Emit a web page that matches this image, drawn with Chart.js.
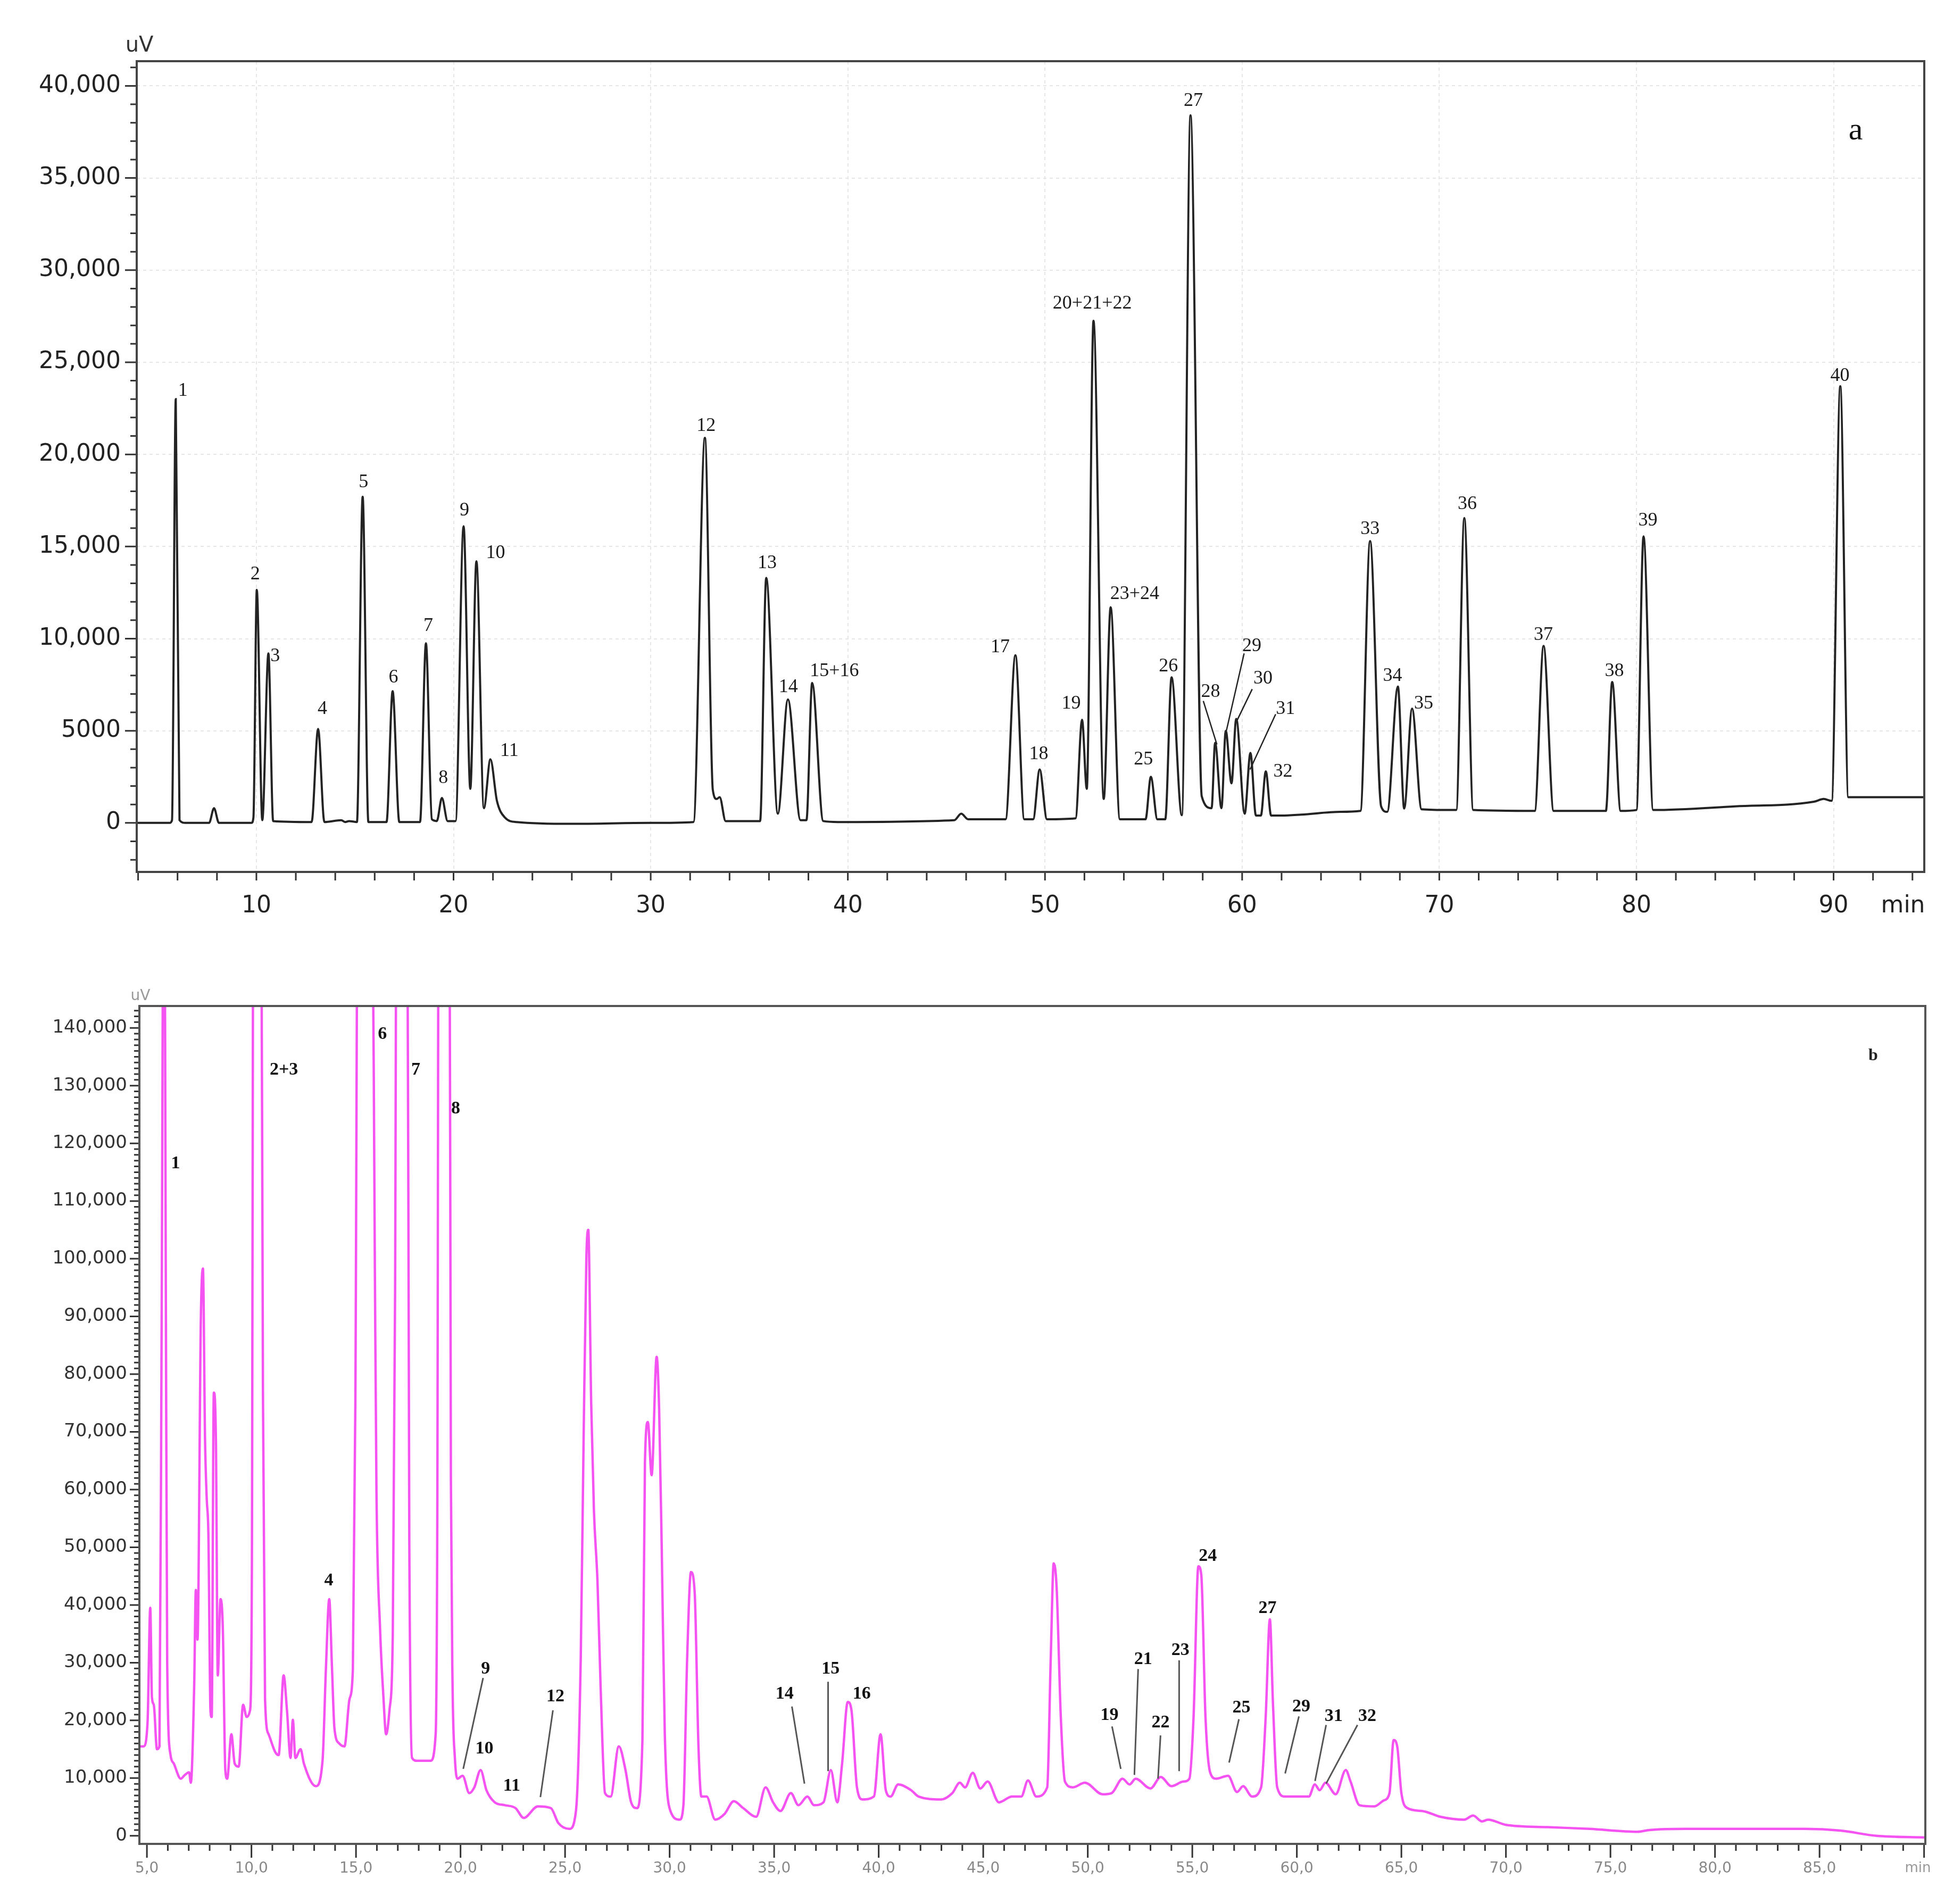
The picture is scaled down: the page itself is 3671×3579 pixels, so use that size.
<!DOCTYPE html>
<html><head><meta charset="utf-8">
<script src="https://cdn.jsdelivr.net/npm/chart.js@4.4.1/dist/chart.umd.min.js"></script>
<style>
html,body{margin:0;padding:0;background:#fff;}
#wrap{position:relative;width:3671px;height:3579px;background:#fff;}
canvas{position:absolute;left:0;}
</style></head><body>
<div id="wrap">
<canvas id="ca" width="3671" height="1780" style="top:0;width:3671px;height:1780px"></canvas>
<canvas id="cb" width="3671" height="1799" style="top:1780px;width:3671px;height:1799px"></canvas>
</div>
<script>
// ---------- Chromatogram a (time in min, signal in uV) ----------
const traceA = [
[3.93,0],[5.6,0],[5.72,150],[5.91,23000],[6.1,150],[6.4,0],[7.6,0],[7.85,800],[8.1,0],
[9.75,0],[9.85,300],[10.02,12650],[10.3,150],[10.61,9200],[10.85,100],[12.8,50],[13.13,5100],[13.45,50],
[14.3,150],[14.5,50],[14.7,100],[15.1,50],[15.39,17700],[15.68,50],[16.6,50],[16.91,7150],[17.25,50],
[18.3,50],[18.6,9750],[18.9,200],[19.15,100],[19.41,1350],[19.7,100],[20.1,100],[20.51,16100],[20.85,1850],
[21.16,14200],[21.54,800],[21.87,3450],[22.2,1200],[22.6,300],[23.2,50],[26,-50],[30,0],
[32.17,50],[32.75,20900],[33.15,1800],[33.35,1300],[33.5,1400],[33.8,100],[35.55,100],[35.86,13300],
[36.45,500],[36.96,6700],[37.6,150],[37.9,150],[38.19,7600],[38.75,100],[39.5,50],[45.4,150],[45.75,500],
[46.1,200],[48.0,200],[48.5,9100],[48.95,200],[49.4,200],[49.73,2900],[50.1,200],[51.55,250],[51.88,5600],
[52.12,1850],[52.46,27250],[52.98,1300],[53.33,11700],[53.8,200],[55.1,200],[55.37,2500],[55.7,200],
[56.1,200],[56.42,7900],[56.94,420],[57.38,38400],[57.95,1450],[58.45,800],[58.63,4350],[58.95,800],
[59.17,5000],[59.46,2150],[59.7,5650],[60.13,500],[60.42,3800],[60.7,400],[60.95,400],[61.2,2800],
[61.47,400],[62,400],[63,450],[65,600],[66.0,650],[66.49,15300],[67.05,900],[67.36,600],[67.9,7400],
[68.22,780],[68.62,6200],[69.1,740],[70.5,700],[70.86,700],[71.27,16550],[71.72,700],[74.84,650],[75.29,9600],
[75.8,650],[78.45,650],[78.77,7650],[79.2,650],[80.0,700],[80.36,15550],[80.85,700],[85,900],[89.0,1150],
[89.5,1300],[89.9,1200],[90.34,23700],[90.75,1400],[94.6,1400]
];
const peakLabelsA = [
["1",6.27,23450],["2",9.94,13500],["3",10.95,9050],["4",13.35,6200],["5",15.43,18500],["6",16.95,7900],
["7",18.72,10700],["8",19.48,2430],["9",20.55,16960],["10",22.13,14660],["11",22.83,3920],["12",32.81,21550],
["13",35.91,14100],["14",36.98,7360],["15+16",39.32,8240],["17",47.73,9530],["18",49.68,3720],["19",51.33,6490],
["20+21+22",52.4,28180],["23+24",54.55,12430],["25",54.99,3450],["26",56.26,8510],["27",57.52,39190],
["28",58.4,7100],["29",60.49,9600],["30",61.06,7840],["31",62.2,6200],["32",62.07,2770],["33",66.49,15950],
["34",67.63,7970],["35",69.21,6490],["36",71.42,17300],["37",75.28,10200],["38",78.88,8240],["39",80.58,16400],
["40",90.32,24260]
];
const leadersA = [[58.03,6620,58.72,4260],[60.1,9200,59.2,5000],[60.51,7260,59.75,5580],[61.7,5900,60.4,2900]];
const xLabelValuesA = [10,20,30,40,50,60,70,80,90];
const yLabelValuesA = [0,5000,10000,15000,20000,25000,30000,35000,40000];
const yLabelTextsA = ["0","5000","10,000","15,000","20,000","25,000","30,000","35,000","40,000"];

// ---------- Chromatogram b ----------
const traceB = [
[4.64,15500],[4.84,15500],[5.03,19600],[5.16,39500],[5.24,24000],[5.33,22700],[5.48,15000],[5.6,15500],
[5.7,85000],[5.82,190000],[5.9,100000],[5.97,30000],[6.13,14000],[6.29,12500],[6.62,9900],[6.8,10500],
[7.02,11000],[7.1,9200],[7.26,25800],[7.34,42600],[7.42,34000],[7.58,89600],[7.68,98300],[7.78,68700],
[7.86,58500],[7.94,52300],[8.04,21700],[8.1,20600],[8.2,76800],[8.3,68700],[8.39,27800],[8.52,41000],
[8.63,36000],[8.75,11400],[8.84,9900],[9.04,17600],[9.2,12500],[9.39,12000],[9.6,22700],[9.77,20600],
[9.93,21700],[10.02,46000],[10.1,180000],[10.45,180000],[10.55,76800],[10.65,23700],[10.82,17600],
[11.14,14500],[11.3,14000],[11.54,27800],[11.7,21700],[11.87,13500],[11.98,20100],[12.1,13500],
[12.35,15000],[12.51,12500],[13.08,8600],[13.4,13000],[13.56,28800],[13.72,41000],[13.85,29300],
[13.97,18600],[14.2,16000],[14.45,15500],[14.69,23700],[14.85,28800],[14.97,75000],[15.1,180000],
[15.75,180000],[15.9,100000],[15.98,59500],[16.15,36000],[16.31,24200],[16.44,17600],[16.6,21700],
[16.76,35000],[16.87,94000],[16.95,180000],[17.44,180000],[17.55,51000],[17.68,13500],[17.92,13000],
[18.57,13000],[18.81,17600],[18.89,56000],[18.96,180000],[19.46,180000],[19.54,61500],[19.62,25800],
[19.73,13500],[19.85,9900],[20.1,10400],[20.42,7400],[20.66,8400],[20.96,11400],[21.24,7900],[21.64,5800],
[22.13,5300],[22.63,4800],[23.02,3100],[23.7,5100],[24.32,4800],[24.68,2200],[25.21,1200],[25.52,4300],
[25.75,30900],[25.89,69700],[26.02,100300],[26.11,105000],[26.25,74800],[26.38,56400],[26.55,44100],
[26.7,25800],[26.91,7400],[27.18,6800],[27.57,15500],[27.89,11400],[28.16,5800],[28.43,4800],[28.7,16600],
[28.82,64600],[28.96,71700],[29.14,62500],[29.38,83000],[29.5,73800],[29.63,48200],[29.77,17600],
[30.04,4300],[30.48,2800],[30.66,5300],[30.84,30900],[31.02,45700],[31.2,42100],[31.38,15500],[31.52,6800],
[31.77,6800],[32.18,2800],[32.63,3800],[33.07,6000],[33.52,4800],[34.14,3300],[34.59,8400],[34.95,5800],
[35.3,4300],[35.8,7400],[36.16,5300],[36.59,6800],[36.91,5300],[37.36,5800],[37.71,11400],[38.02,5800],
[38.25,12500],[38.52,23200],[38.7,21700],[38.96,8400],[39.23,6300],[39.77,6800],[40.09,17600],[40.34,7900],
[40.57,6800],[40.93,8900],[41.55,7900],[41.91,6800],[42.98,6300],[43.52,7400],[43.88,9200],[44.13,8400],
[44.5,10900],[44.86,8200],[45.21,9400],[45.75,5800],[46.38,6800],[46.82,6800],[47.14,9600],[47.54,6800],
[48.06,8400],[48.23,30900],[48.37,47200],[48.51,43100],[48.71,20600],[48.91,9400],[49.29,8400],[49.86,9200],
[50.71,7200],[51.14,7400],[51.66,9900],[52.0,8900],[52.29,9900],[53.0,8200],[53.49,10200],[54.0,8600],
[54.57,9400],[54.86,9900],[55.06,20600],[55.29,46700],[55.43,45200],[55.63,20600],[55.86,10900],[56.14,9900],
[56.71,10400],[57.14,7600],[57.43,8600],[57.86,6800],[58.29,8400],[58.51,20600],[58.71,37500],[58.86,22700],
[59.06,8400],[59.43,6800],[60.57,6800],[60.86,8900],[61.09,7900],[61.37,9200],[61.86,7200],[62.34,11400],
[62.57,9400],[63.0,5300],[63.71,5100],[64.14,6100],[64.43,7400],[64.63,16600],[64.8,15500],[65.0,7400],
[65.29,4800],[66.0,4300],[66.86,3300],[68.0,2800],[68.43,3500],[68.86,2500],[69.14,2800],[70.0,1900],
[72.0,1500],[74.0,1200],[76.29,700],[76.86,1000],[78.57,1200],[80.57,1200],[84.29,1200],[86.0,900],
[87.71,0],[90.06,-300]
];
const peakLabelsB = [
["1",6.37,116500],["2+3",11.55,132700],["4",13.7,44200],["6",16.26,138900],["7",17.86,132700],
["8",19.77,126000],["9",21.2,28900],["10",21.14,15100],["11",22.45,8600],["12",24.54,24100],
["14",35.5,24550],["15",37.7,28900],["16",39.19,24550],["19",51.04,20900],["21",52.65,30600],
["22",53.48,19600],["23",54.43,32100],["24",55.74,48500],["25",57.35,22200],["27",58.6,39400],
["29",60.21,22400],["31",61.76,20700],["32",63.37,20700]
];
const leadersB = [
[21.08,27350,20.13,11600],[24.42,21750,23.82,6700],[35.85,22400,36.45,9050],[37.58,26700,37.58,11200],
[51.16,18950,51.58,11600],[52.41,28900,52.23,10550],[53.48,17400,53.36,9900],[54.37,30400,54.37,11200],
[57.23,20200,56.76,12700],[60.1,20700,59.44,10800],[61.4,19200,60.87,9500],[62.9,19200,61.4,9050]
];
const xLabelValuesB = [5,10,15,20,25,30,35,40,45,50,55,60,65,70,75,80,85];
const xLabelTextsB = ["5,0","10,0","15,0","20,0","25,0","30,0","35,0","40,0","45,0","50,0","55,0","60,0","65,0","70,0","75,0","80,0","85,0"];
const yLabelValuesB = [0,10000,20000,30000,40000,50000,60000,70000,80000,90000,100000,110000,120000,130000,140000];
const yLabelTextsB = ["0","10,000","20,000","30,000","40,000","50,000","60,000","70,000","80,000","90,000","100,000","110,000","120,000","130,000","140,000"];

function range(a, b, s){ const r=[]; for(let v=a; v<=b+1e-9; v+=s) r.push(Math.round(v*1000)/1000); return r; }
function isMult(v, s){ return Math.abs(v/s - Math.round(v/s)) < 1e-6; }

function makeDecor(cfg){
  return {
    id: 'decor',
    afterDraw(chart){
      const {ctx, chartArea: ca, scales} = chart; const x = scales.x, y = scales.y;
      ctx.save();
      ctx.strokeStyle = cfg.tickColor; ctx.lineWidth = cfg.tickWidth; ctx.beginPath();
      x.ticks.forEach(t => { const px = x.getPixelForValue(t.value); const L = isMult(t.value, cfg.xMajor) ? cfg.xMajorLen : cfg.xMinorLen; ctx.moveTo(px, ca.bottom); ctx.lineTo(px, ca.bottom + L); });
      y.ticks.forEach(t => { const py = y.getPixelForValue(t.value); const L = isMult(t.value, cfg.yMajor) ? cfg.yMajorLen : cfg.yMinorLen; ctx.moveTo(ca.left, py); ctx.lineTo(ca.left - L, py); });
      ctx.stroke();
      cfg.texts.forEach(tx => { ctx.font = tx.font; ctx.fillStyle = tx.color; ctx.textAlign = 'center'; ctx.textBaseline = 'middle';
        ctx.fillText(tx.text, (tx.fromRight ? ca.right : ca.left) + tx.dx, (tx.fromBottom ? ca.bottom : ca.top) + tx.dy); });
      ctx.strokeStyle = cfg.frameColor; ctx.lineWidth = cfg.frameWidth;
      ctx.strokeRect(ca.left, ca.top, ca.right - ca.left, ca.bottom - ca.top);
      ctx.strokeStyle = cfg.leaderColor; ctx.lineWidth = cfg.leaderWidth; ctx.beginPath();
      cfg.leaders.forEach(([t1,v1,t2,v2]) => { ctx.moveTo(x.getPixelForValue(t1), y.getPixelForValue(v1)); ctx.lineTo(x.getPixelForValue(t2), y.getPixelForValue(v2)); });
      ctx.stroke();
      ctx.font = cfg.labelFont; ctx.fillStyle = cfg.labelColor; ctx.textAlign = 'center'; ctx.textBaseline = 'middle';
      cfg.labels.forEach(([txt,t,v]) => ctx.fillText(txt, x.getPixelForValue(t), y.getPixelForValue(v)));
      ctx.restore();
    }
  };
}

function build(id, o){
  return new Chart(document.getElementById(id), {
    type: 'line',
    data: { datasets: [{ data: o.trace.map(([t,v]) => ({x:t, y:v})), borderColor: o.lineColor, borderWidth: o.lineWidth,
      pointRadius: 0, fill: false, cubicInterpolationMode: 'monotone', clip: 0 }] },
    options: {
      responsive: false, animation: false, devicePixelRatio: 1, events: [],
      layout: { padding: o.padding },
      plugins: { legend: {display:false}, tooltip: {enabled:false} },
      scales: {
        x: { type:'linear', bounds:'data', min:o.xmin, max:o.xmax,
          afterBuildTicks: a => { a.ticks = o.xTicks.map(v => ({value:v})); },
          afterFit: s => { s.height = o.xHeight; },
          ticks: { autoSkip:false, maxRotation:0, minRotation:0, padding:o.xPad, font:o.xFont, color:o.xColor,
            callback: v => { const i = o.xLabVals.findIndex(q => Math.abs(q - v) < 1e-6); return i < 0 ? '' : o.xLabTexts[i]; } },
          grid: { drawTicks:false, lineWidth:2, color: c => (o.xGrid && c.tick && isMult(c.tick.value, o.xGrid)) ? o.gridColor : 'rgba(0,0,0,0)' },
          border: { display:false, dash:[6,6] } },
        y: { type:'linear', bounds:'data', min:o.ymin, max:o.ymax,
          afterBuildTicks: a => { a.ticks = o.yTicks.map(v => ({value:v})); },
          afterFit: s => { s.width = o.yWidth; },
          ticks: { autoSkip:false, padding:o.yPad, font:o.yFont, color:o.yColor,
            callback: v => { const i = o.yLabVals.findIndex(q => Math.abs(q - v) < 1e-6); return i < 0 ? '' : o.yLabTexts[i]; } },
          grid: { drawTicks:false, lineWidth:2, color: c => (o.yGrid && c.tick && c.tick.value > 0 && isMult(c.tick.value, o.yGrid)) ? o.gridColor : 'rgba(0,0,0,0)' },
          border: { display:false, dash:[6,6] } }
      }
    },
    plugins: [makeDecor(o.decor)]
  });
}

build('ca', {
  trace: traceA, lineColor:'#232323', lineWidth:4,
  padding: {top:115, right:54, left:0, bottom:0},
  xmin:3.93, xmax:94.6, ymin:-2660, ymax:41340,
  xTicks: range(4, 94, 2), yTicks: range(-2000, 41000, 1000),
  xHeight:141, yWidth:257, xPad:38, yPad:30,
  xFont:{family:'DejaVu Sans', size:44}, yFont:{family:'DejaVu Sans', size:44}, xColor:'#222', yColor:'#222',
  xLabVals: xLabelValuesA, xLabTexts: xLabelValuesA.map(String), yLabVals: yLabelValuesA, yLabTexts: yLabelTextsA,
  xGrid:10, yGrid:5000, gridColor:'#e6e6e6',
  decor: { tickColor:'#333', tickWidth:3, xMajor:10, xMajorLen:16, xMinorLen:16, yMajor:5000, yMajorLen:22, yMinorLen:12,
    frameColor:'#444', frameWidth:4, leaderColor:'#222', leaderWidth:2.5, leaders: leadersA,
    labelFont:'36px "Liberation Serif"', labelColor:'#1a1a1a', labels: peakLabelsA,
    texts: [
      {text:'uV', font:'40px "DejaVu Sans"', color:'#333', dx:5, dy:-28},
      {text:'min', font:'44px "DejaVu Sans"', color:'#222', fromRight:true, fromBottom:true, dx:-40, dy:65},
      {text:'a', font:'60px "Liberation Serif"', color:'#111', fromRight:true, dx:-129, dy:131}
    ] }
});

build('cb', {
  trace: traceB, lineColor:'#f552f2', lineWidth:4.5,
  padding: {top:111, right:52, left:0, bottom:0},
  xmin:4.64, xmax:90.06, ymin:-1400, ymax:143800,
  xTicks: range(5, 90, 1), yTicks: range(0, 143000, 1000),
  xHeight:113, yWidth:262, xPad:30, yPad:23,
  xFont:{family:'DejaVu Sans', size:28}, yFont:{family:'DejaVu Sans', size:34}, xColor:'#888', yColor:'#333',
  xLabVals: xLabelValuesB, xLabTexts: xLabelTextsB, yLabVals: yLabelValuesB, yLabTexts: yLabelTextsB,
  xGrid:0, yGrid:0, gridColor:'#eee',
  decor: { tickColor:'#333', tickWidth:3, xMajor:5, xMajorLen:26, xMinorLen:13, yMajor:10000, yMajorLen:18, yMinorLen:10,
    frameColor:'#555', frameWidth:4, leaderColor:'#555', leaderWidth:3, leaders: leadersB,
    labelFont:'bold 34px "Liberation Serif"', labelColor:'#111', labels: peakLabelsB,
    texts: [
      {text:'uV', font:'28px "DejaVu Sans"', color:'#999', dx:2, dy:-18},
      {text:'min', font:'26px "DejaVu Sans"', color:'#999', fromRight:true, fromBottom:true, dx:-14, dy:46},
      {text:'b', font:'bold 32px "Liberation Serif"', color:'#222', fromRight:true, dx:-98, dy:94}
    ] }
});
</script>
</body></html>
